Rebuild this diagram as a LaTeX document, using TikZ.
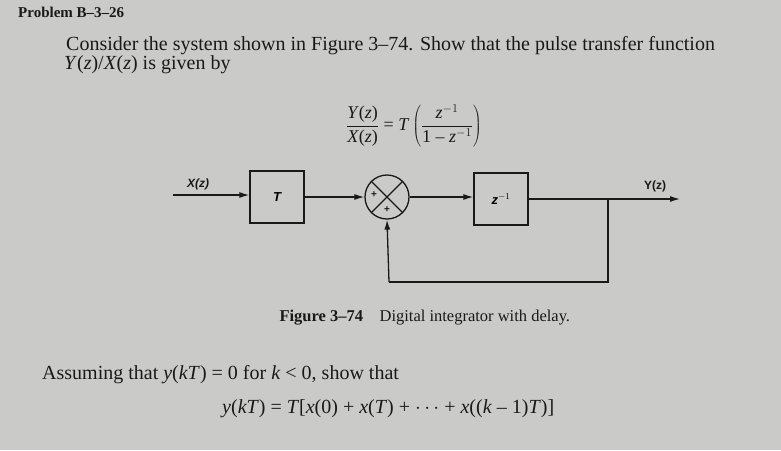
\documentclass[tikz,border=0pt]{standalone}
\usepackage{fontspec}
\setmainfont{Liberation Serif}
\setsansfont{Liberation Sans}
\usetikzlibrary{arrows.meta}
\definecolor{bg}{RGB}{202,202,200}
\definecolor{ink}{RGB}{25,25,28}
\newcommand{\iv}[1]{\textit{#1}}
\begin{document}
\begin{tikzpicture}[x=1pt,y=-1pt,
  blk/.style={draw=ink,line width=1.3pt,minimum width=54pt,minimum height=52pt,inner sep=0pt,font=\sffamily\bfseries\itshape\fontsize{13}{15}\selectfont},
  sig/.style={draw=ink,line width=1.3pt,-{Latex[length=10pt,width=6pt]}},
  ln/.style={draw=ink,line width=1.3pt},
  lab/.style={text=ink,font=\sffamily\bfseries\fontsize{12}{14}\selectfont},
  txt/.style={text=ink,inner sep=0pt,anchor=west,font=\fontsize{20}{23}\selectfont}]
\fill[bg] (0,0) rectangle (781,450);
\useasboundingbox (0,0) rectangle (781,450);
\node[txt,font=\bfseries\fontsize{15}{17}\selectfont] (pr) at (18,12) {Problem B--3--26};
\node[txt] (l1) at (66,46) {Consider the system shown in Figure 3--74. Show that the pulse transfer function};
\node[txt] (l2) at (64,65) {\iv{Y}(\iv{z})/\iv{X}(\iv{z}) is given by};
\node[text=ink,font=\fontsize{18}{20}\selectfont] (eq1) at (414,126) {$\displaystyle\frac{\hbox{\iv{Y}(\iv{z})}}{\hbox{\iv{X}(\iv{z})}}\ \hbox{=}\ \hbox{\iv{T}}\left(\displaystyle\frac{\hbox{\iv{z}$^{-1}$}}{\hbox{1 -- \iv{z}$^{-1}$}}\right)$};
\node[blk] (T) at (277,197) {T};
\node[draw=ink,line width=1.3pt,circle,minimum size=44pt,inner sep=0pt] (S) at (387,197) {};
\draw[ln] (S.north west) -- (S.south east) (S.north east) -- (S.south west);
\node[text=ink,font=\bfseries\sffamily] (p1) at (374,195) {+};
\node[text=ink,font=\bfseries\sffamily] (p2) at (387,210) {+};
\node[blk] (Z) at (501,199) {z$^{-1}$};
\coordinate (in) at (173,195);
\coordinate (out) at (680,199);
\coordinate (br) at (603,199);
\coordinate (c1) at (608,282);
\coordinate (c2) at (389,282);
\draw[sig] (in) -- (T.west |- in);
\draw[sig] (T.east |- S) -- (S.west);
\draw[sig] (S.east) -- (Z.west |- S);
\draw[sig] (Z.east |- out) -- (out);
\draw[ln] (br) -- (c1 |- br) -- (c1) -- (c2);
\draw[sig] (c2) -- (S.south);
\node[lab,font=\sffamily\bfseries\itshape\fontsize{12}{14}\selectfont] (xl) at (198,184) {X(z)};
\node[lab] (yl) at (655,186) {Y(z)};
\node[text=ink,anchor=west,font=\fontsize{16.5}{18}\selectfont] (cap) at (276,318) {\textbf{Figure 3--74}\quad Digital integrator with delay.};
\node[txt] (l3) at (42,375) {Assuming that \iv{y}(\iv{kT}) = 0 for \iv{k} < 0, show that};
\node[txt] (eq2) at (222,409) {\iv{y}(\iv{kT}) = \iv{T}[\iv{x}(0) + \iv{x}(\iv{T}) + $\cdots$ + \iv{x}((\iv{k} -- 1)\iv{T})]};
\end{tikzpicture}
\end{document}
